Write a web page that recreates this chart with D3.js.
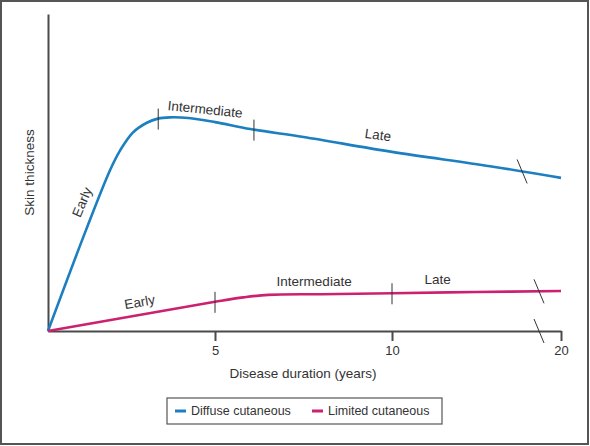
<!DOCTYPE html>
<html>
<head>
<meta charset="utf-8">
<script src="https://cdn.jsdelivr.net/npm/d3@7"></script>
<style>
  body { margin: 0; background: #fff; }
  svg { display: block; font-family: "Liberation Sans", Arial, sans-serif; }
  .axis path, .axis line { stroke: #4a4a4a; stroke-width: 2; }
  .axis text { font-size: 13px; fill: #333; }
  .note { font-size: 13.5px; fill: #333; }
  .mark { stroke: #333; stroke-width: 1; }
</style>
</head>
<body>
<svg id="chart" width="590" height="446"></svg>
<script>
// years along the (broken) x axis, and relative skin thickness (0-100)
const diffuseYears = [0, 1.14, 1.86, 2.16, 2.54, 2.96, 3.29, 3.65, 4.2, 5, 6, 7.5, 10, 15.8, 20];
const diffuseThick = [0, 31.9, 50.8, 57.0, 62.6, 65.7, 67.0, 67.4, 67.2, 65.9, 63.7, 61.2, 56.5, 52, 48.3];
const limitedYears = [0, 5, 5.8, 6.5, 8, 10, 15, 20];
const limitedThick = [0, 9.2, 10.6, 11.4, 11.6, 11.9, 12.3, 12.6];

const xTicks = [5, 10, 20];
const diffuseBreak = 17.7;
const limitedBreak = 18.7;

// stage boundaries and stage labels
const diffuseStageMarks = [3.3, 6.1];
const limitedStageMarks = [5, 10];
const diffuseLabels = [
  {text: 'Early', year: 1.05, val: 40.5, rot: -67},
  {text: 'Intermediate', year: 4.7, val: 69.6, rot: 6},
  {text: 'Late', year: 9.6, val: 61.5, rot: 8}
];
const limitedLabels = [
  {text: 'Early', year: 2.75, val: 8.8, rot: -10},
  {text: 'Intermediate', year: 7.8, val: 15.2, rot: 0},
  {text: 'Late', year: 12.7, val: 15.8, rot: 0}
];

const legendItems = [
  {name: 'Diffuse cutaneous', color: '#1b7fc0'},
  {name: 'Limited cutaneous', color: '#cc2170'}
];

const svg = d3.select('#chart');

// outer frame
svg.append('rect')
  .attr('x', 1).attr('y', 1).attr('width', 587).attr('height', 443)
  .attr('fill', 'none').attr('stroke', '#555').attr('stroke-width', 2);

// x scale is piecewise: the last segment (10-20) is compressed
const x = d3.scaleLinear().domain([0, 5, 10, 20]).range([48, 215, 392, 561]);
const y = d3.scaleLinear().domain([0, 100]).range([331, 14]);

const aX = d3.axisBottom(x).tickValues(xTicks).tickSize(10).tickSizeOuter(0).tickPadding(5);
svg.append('g')
  .attr('class', 'axis axis--x')
  .attr('transform', `translate(0, ${y(0)})`)
  .call(aX);

const aY = d3.axisLeft(y).tickValues([]).tickSizeOuter(0);
svg.append('g')
  .attr('class', 'axis axis--y')
  .attr('transform', `translate(${x(0)}, 0)`)
  .call(aY);

svg.append('text')
  .attr('x', 303).attr('y', 378)
  .attr('text-anchor', 'middle')
  .attr('font-size', 13.5).attr('fill', '#333')
  .text('Disease duration (years)');

svg.append('text')
  .attr('transform', `translate(34, ${y(50)}) rotate(-90)`)
  .attr('text-anchor', 'middle')
  .attr('font-size', 13.5).attr('fill', '#333')
  .text('Skin thickness');

// curves
const line = d3.line().x(d => x(d.x)).y(d => y(d.y)).curve(d3.curveCatmullRom.alpha(0.5));
const diffuse = diffuseYears.map((v, i) => ({x: v, y: diffuseThick[i]}));
const limited = limitedYears.map((v, i) => ({x: v, y: limitedThick[i]}));

svg.append('path').datum(diffuse)
  .attr('fill', 'none').attr('stroke', legendItems[0].color).attr('stroke-width', 2.6)
  .attr('d', line);
svg.append('path').datum(limited)
  .attr('fill', 'none').attr('stroke', legendItems[1].color).attr('stroke-width', 2.6)
  .attr('d', line);

// value of a curve at a given year (for placing stage marks)
function valueAt(data, yr) {
  const i = d3.bisector(d => d.x).right(data, yr);
  if (i <= 0) return data[0].y;
  if (i >= data.length) return data[data.length - 1].y;
  const a = data[i - 1], b = data[i];
  return a.y + (b.y - a.y) * (yr - a.x) / (b.x - a.x);
}

function stageMarks(data, years) {
  svg.append('g').selectAll('line').data(years).join('line')
    .attr('class', 'mark')
    .attr('x1', d => x(d)).attr('x2', d => x(d))
    .attr('y1', d => y(valueAt(data, d)) - 10)
    .attr('y2', d => y(valueAt(data, d)) + 11);
}
stageMarks(diffuse, diffuseStageMarks);
stageMarks(limited, limitedStageMarks);

// break slashes on both curves and the x axis
const breaks = [
  {yr: diffuseBreak, val: valueAt(diffuse, diffuseBreak)},
  {yr: limitedBreak, val: valueAt(limited, limitedBreak)},
  {yr: limitedBreak, val: 0}
];
svg.append('g').selectAll('line').data(breaks).join('line')
  .attr('class', 'mark')
  .attr('x1', d => x(d.yr) - 5).attr('x2', d => x(d.yr) + 5)
  .attr('y1', d => y(d.val) - 12).attr('y2', d => y(d.val) + 12);

// stage labels
function stageLabels(labels) {
  svg.append('g').selectAll('text').data(labels).join('text')
    .attr('class', 'note')
    .attr('text-anchor', 'middle')
    .attr('dominant-baseline', 'middle')
    .attr('transform', d => `translate(${x(d.year)}, ${y(d.val)}) rotate(${d.rot})`)
    .text(d => d.text);
}
stageLabels(diffuseLabels);
stageLabels(limitedLabels);

// legend
const lg = svg.append('g').attr('transform', 'translate(167, 398)');
lg.append('rect')
  .attr('width', 275).attr('height', 26)
  .attr('fill', '#fff').attr('stroke', '#555').attr('stroke-width', 1.2);
const li = lg.selectAll('g.item').data(legendItems).join('g')
  .attr('class', 'item')
  .attr('transform', (d, i) => `translate(${8 + i * 137}, 13)`);
li.append('line')
  .attr('x1', 0).attr('x2', 11).attr('y1', 0).attr('y2', 0)
  .attr('stroke', d => d.color).attr('stroke-width', 3);
li.append('text')
  .attr('x', 16).attr('dy', '0.35em')
  .attr('font-size', 12.5).attr('fill', '#333')
  .text(d => d.name);
</script>
</body>
</html>
